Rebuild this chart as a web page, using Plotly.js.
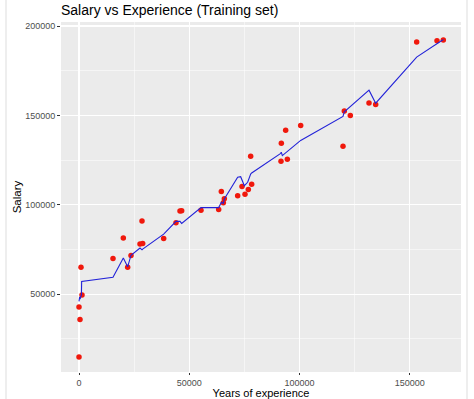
<!DOCTYPE html>
<html>
<head>
<meta charset="utf-8">
<script src="https://cdn.plot.ly/plotly-3.0.1.min.js"></script>
<style>html,body{margin:0;padding:0;background:#fff;}#chart{width:474px;height:399px;}</style>
</head>
<body>
<div id="chart"></div>
<script>
// Training set observations
var experience = [0, 454, 0, 907, 1361, 15422, 20110, 22075, 23587, 28577, 27670, 28880, 38405, 44000, 45814, 46570, 55340, 63353, 64562, 65923, 65470, 71971, 73937, 75298, 76810, 78322, 77868, 91778, 91627, 93744, 94500, 100548, 119750, 120355, 123077, 131544, 134568, 153166, 162389, 165262];
var salary = [14900, 35800, 42900, 65100, 49600, 70000, 81400, 65100, 71700, 90900, 78000, 78400, 81200, 90000, 96500, 96700, 96900, 97400, 107500, 103400, 101200, 105100, 110300, 105900, 108500, 111500, 127100, 134400, 124300, 141700, 125500, 144300, 132800, 152400, 149900, 157000, 156100, 191000, 191800, 192200];

// Fitted (predicted) salary line
var fitX = [0, 300, 500, 1100, 1200, 15422, 20110, 22075, 23587, 27670, 28577, 28880, 38405, 44000, 45814, 46570, 55340, 63353, 64562, 65470, 65923, 71971, 73332, 75000, 76500, 77868, 78322, 91178, 91778, 92230, 100548, 119750, 120355, 131544, 134568, 153166, 162389, 165262];
var fitY = [46000, 48500, 47300, 49700, 57100, 59500, 70300, 65300, 71800, 75800, 74800, 75200, 83600, 90700, 90700, 89600, 98400, 98400, 101400, 100800, 103200, 115400, 115700, 110700, 112600, 117200, 117800, 128500, 129400, 127500, 136000, 149400, 152000, 164100, 156800, 182600, 190000, 192500];

var xTicks = [0, 50000, 100000, 150000];
var yTicks = [50000, 100000, 150000, 200000];

var traces = [
  {
    x: experience, y: salary, type: 'scatter', mode: 'markers',
    marker: {color: '#F0180C', size: 5.5, line: {width: 0}},
    hoverinfo: 'skip', showlegend: false
  },
  {
    x: fitX, y: fitY, type: 'scatter', mode: 'lines',
    line: {color: '#2222D8', width: 1.1},
    hoverinfo: 'skip', showlegend: false
  }
];

var axisCommon = {
  showgrid: true, gridcolor: '#FFFFFF', gridwidth: 1.1,
  zeroline: false, showline: false,
  ticks: 'outside', ticklen: 3, tickwidth: 1, tickcolor: '#333333',
  tickfont: {family: 'Liberation Sans, Arial, sans-serif', size: 9, color: '#4D4D4D'},
  minor: {showgrid: true, gridcolor: '#FFFFFF', gridwidth: 0.5, ticks: ''}
};

var layout = {
  width: 474, height: 399,
  margin: {l: 61, r: 13, t: 22, b: 27},
  paper_bgcolor: '#FFFFFF',
  plot_bgcolor: '#EBEBEB',
  font: {family: 'Liberation Sans, Arial, sans-serif', color: '#000'},
  title: {
    text: 'Salary vs Experience (Training set)',
    font: {size: 14, color: '#000000'},
    xref: 'container', yref: 'container',
    x: 61 / 474, xanchor: 'left',
    y: 1 - 10 / 399, yanchor: 'middle'
  },
  xaxis: Object.assign({}, axisCommon, {
    range: [-8165, 173275],
    ticklen: 2,
    tickvals: xTicks, ticktext: xTicks.map(String),
    minor: Object.assign({}, axisCommon.minor, {tickvals: [25000, 75000, 125000]}),
    title: {text: 'Years of experience', font: {size: 11, color: '#000'}, standoff: 5},
    automargin: false
  }),
  yaxis: Object.assign({}, axisCommon, {
    range: [6475, 202242],
    tickvals: yTicks, ticktext: yTicks.map(String),
    minor: Object.assign({}, axisCommon.minor, {tickvals: [25000, 75000, 125000, 175000]}),
    title: {text: 'Salary', font: {size: 11.5, color: '#000'}, standoff: 1},
    automargin: false
  }),
  shapes: [
    {type: 'line', xref: 'paper', yref: 'paper', x0: -55/400, x1: -55/400, y0: -1, y1: 1.1, line: {color: '#DDDDDD', width: 1}},
    {type: 'line', xref: 'paper', yref: 'paper', x0: 406/400, x1: 406/400, y0: -1, y1: 1.1, line: {color: '#DDDDDD', width: 1}}
  ]
};

Plotly.newPlot('chart', traces, layout, {displayModeBar: false, staticPlot: true});
</script>
</body>
</html>
